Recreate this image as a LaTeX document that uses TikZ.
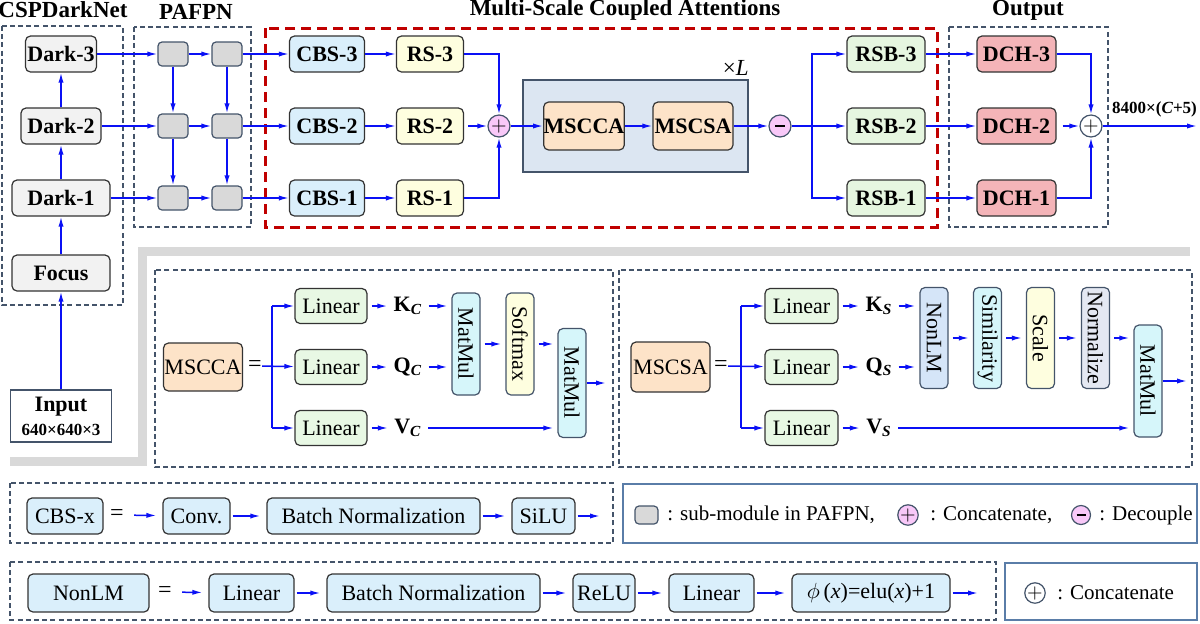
\documentclass[tikz,border=0pt]{standalone}
\usepackage{fontspec}
\setmainfont{Liberation Serif}
\usetikzlibrary{arrows.meta}

\definecolor{slate}{HTML}{44546A}
\definecolor{flow}{HTML}{0A10F5}
\definecolor{darkred}{HTML}{C00000}
\definecolor{legblue}{HTML}{5A7DA8}
\definecolor{lgray}{HTML}{F2F2F2}
\definecolor{mgray}{HTML}{D9D9D9}
\definecolor{cbsblue}{HTML}{DAEFFB}
\definecolor{rsyellow}{HTML}{FEFEDF}
\definecolor{attorange}{HTML}{FDE3C8}
\definecolor{rsbgreen}{HTML}{E6F6E0}
\definecolor{dchred}{HTML}{F4B4B8}
\definecolor{catpink}{HTML}{F8C8F8}
\definecolor{loopblue}{HTML}{DCE6F2}
\definecolor{lingreen}{HTML}{E8F8E4}
\definecolor{mulcyan}{HTML}{D6F6FA}
\definecolor{nonlmblue}{HTML}{D5E5F8}
\definecolor{normgray}{HTML}{E4E8F2}

\tikzset{
  arr/.style={draw=flow, line width=0.75pt, -{Latex[length=5pt,width=2.6pt]}},
  parr/.style={arr, shorten <=2pt, shorten >=2pt},
  larr/.style={arr, shorten <=1pt, shorten >=3pt},
  wire/.style={draw=flow, line width=0.75pt},
  grp/.style={draw=slate, line width=0.6pt, dash pattern=on 2.5pt off 1.6pt},
  redgrp/.style={draw=darkred, line width=1.5pt, dash pattern=on 5pt off 3pt},
  leg/.style={draw=legblue, line width=0.6pt},
  sep/.style={draw=black!15, line width=4.5pt},
  title/.style={inner sep=0pt, font=\bfseries\fontsize{11.5}{13}\selectfont},
  blk/.style={rectangle, draw=black!80, line width=0.6pt, rounded corners=2.5pt, inner sep=0pt,
    minimum height=18pt, font=\bfseries\fontsize{11}{13}\selectfont},
  opbox/.style={blk, font=\fontsize{11}{13}\selectfont},
  vbox/.style={rectangle, draw=slate, line width=0.6pt, rounded corners=2.5pt, inner sep=0pt,
    minimum width=14pt, font=\fontsize{11}{13}\selectfont},
  sub/.style={rectangle, draw=slate, line width=0.6pt, rounded corners=2pt, fill=mgray,
    inner sep=0pt, minimum width=15pt, minimum height=12pt},
  ring/.style={circle, draw=slate, line width=0.6pt, inner sep=0pt, minimum size=11pt},
  vec/.style={inner sep=1pt, font=\bfseries\fontsize{11}{13}\selectfont},
  eqs/.style={inner sep=0pt, font=\fontsize{12}{13}\selectfont},
  legtxt/.style={inner sep=0pt, anchor=west, font=\fontsize{10.5}{12}\selectfont},
}

\begin{document}
\begin{tikzpicture}[x=0.5pt, y=-0.5pt]
  \useasboundingbox (0,0) rectangle (1200,623);

  % frames
  \draw[grp] (2,26) rectangle (123,305);
  \draw[grp] (134,27) rectangle (251,227);
  \draw[redgrp] (265,28) rectangle (937,227);
  \draw[grp] (949,27) rectangle (1108,227);
  \draw[sep] (10,461) -- (142,461) -- (142,251) -- (1190,251);
  \draw[grp] (155,270) rectangle (613,467);
  \draw[grp] (619,270) rectangle (1192,467);
  \draw[grp] (10,483) rectangle (613,543);
  \draw[grp] (10,562) rectangle (996,620);
  \draw[leg] (623,484) rectangle (1197,543);
  \draw[leg] (1005,563) rectangle (1197,620);

  \node (tdark) [title] at (63,10) {CSPDarkNet};
  \node (tpan) [title] at (196,12) {PAFPN};
  \node (tmsca) [title] at (625,10) {Multi-Scale Coupled Attentions};
  \node (tout) [title] at (1028,10) {Output};

  % backbone
  \node (dark3) [blk, fill=lgray, minimum width=35.5pt] at (61,54) {Dark-3};
  \node (dark2) [blk, fill=lgray, minimum width=40pt] at (61,126) {Dark-2};
  \node (dark1) [blk, fill=lgray, minimum width=49pt] at (61,198) {Dark-1};
  \node (focus) [blk, fill=lgray, minimum width=49pt] at (61,273) {Focus};
  \node (input) [draw=slate, line width=0.6pt, inner sep=0pt, minimum width=50.5pt,
    minimum height=26pt, align=center, font=\bfseries\fontsize{11}{12}\selectfont]
    at (61,416) {Input\\{\fontsize{8.5}{10}\selectfont 640×640×3}};

  % neck
  \foreach \r/\y in {1/198, 2/126, 3/54} {
    \node (pa\r) [sub] at (173,\y) {};
    \node (pb\r) [sub] at (227,\y) {};
    \node (cbs\r) [blk, fill=cbsblue, minimum width=37.5pt] at (327,\y) {CBS-\r};
    \node (rs\r) [blk, fill=rsyellow, minimum width=33.5pt] at (430,\y) {RS-\r};
    \node (rsb\r) [blk, fill=rsbgreen, minimum width=39pt] at (886,\y) {RSB-\r};
    \node (dch\r) [blk, fill=dchred, minimum width=39.5pt] at (1016.5,\y) {DCH-\r};
  }

  \node (cat) [ring, fill=catpink] at (499,126) {$+$};
  \node (loop) [draw=slate, fill=loopblue, line width=0.6pt, minimum width=112.5pt,
    minimum height=46pt] at (635.5,126) {};
  \node (times) [anchor=east, inner sep=0pt, font=\fontsize{11.5}{13}\selectfont]
    at (749,68) {×\textit{L}};
  \node (mscca) [blk, fill=attorange, minimum width=39pt, minimum height=24pt] at (584,126) {MSCCA};
  \node (mscsa) [blk, fill=attorange, minimum width=40pt, minimum height=24pt] at (693,126) {MSCSA};
  \node (dec) [ring, fill=catpink] at (780,126) {\rule{5pt}{1.2pt}};
  \coordinate (split) at (812,126);
  \node (add) [ring, fill=white] at (1091,126) {$+$};
  \coordinate (result) at (1197,126);

  \draw[arr] (input) -- (focus);
  \draw[arr] (focus) -- (dark1);
  \draw[arr] (dark1) -- (dark2);
  \draw[arr] (dark2) -- (dark3);
  \foreach \r in {1,2,3} {
    \draw[arr] (dark\r) -- (pa\r);
    \draw[arr] (pa\r) -- (pb\r);
    \draw[arr] (pb\r) -- (cbs\r);
    \draw[arr] (cbs\r) -- (rs\r);
    \draw[arr] (rsb\r) -- (dch\r);
  }
  \draw[arr] (pa3) -- (pa2);
  \draw[arr] (pa2) -- (pa1);
  \draw[arr] (pb3) -- (pb2);
  \draw[arr] (pb2) -- (pb1);
  \draw[arr] (rs3) -| (cat);
  \draw[arr, shorten <=2pt] (rs2) -- (cat);
  \draw[arr] (rs1) -| (cat);
  \draw[arr] (cat) -- (mscca);
  \draw[arr] (mscca) -- (mscsa);
  \draw[arr] (mscsa) -- (dec);
  \draw[arr] (dec) -- (rsb2);
  \draw[arr] (split) |- (rsb3);
  \draw[arr] (split) |- (rsb1);
  \draw[arr] (dch3) -| (add);
  \draw[arr, shorten <=3pt] (dch2) -- (add);
  \draw[arr] (dch1) -| (add);
  \draw[arr] (add) -- (result)
    node [pos=0.55, above=4pt, inner sep=0pt, font=\bfseries\fontsize{8.5}{10}\selectfont]
    {8400×(\textit{C}+5)};

  % channel attention
  \node (ccadef) [opbox, fill=attorange, minimum width=39.5pt, minimum height=24pt] at (203,367) {MSCCA};
  \node (eqa) [eqs] at (255,366) {=};
  \coordinate (bra) at (272,367);
  \node (lka) [opbox, fill=lingreen, minimum width=36pt, minimum height=17.5pt] at (331,306) {Linear};
  \node (lqa) [opbox, fill=lingreen, minimum width=36pt, minimum height=17.5pt] at (331,367) {Linear};
  \node (lva) [opbox, fill=lingreen, minimum width=36pt, minimum height=17.5pt] at (331,428) {Linear};
  \node (ka) [vec] at (408,306) {K\textsubscript{\textit{C}}};
  \node (qa) [vec] at (408,367) {Q\textsubscript{\textit{C}}};
  \node (va) [vec] at (408,428) {V\textsubscript{\textit{C}}};
  \node (mma) [vbox, fill=mulcyan, minimum height=51pt] at (466,344) {\rotatebox{-90}{MatMul}};
  \node (sma) [vbox, fill=rsyellow, minimum height=51pt] at (520,344) {\rotatebox{-90}{Softmax}};
  \node (mmb) [vbox, fill=mulcyan, minimum height=54.5pt] at (572,383) {\rotatebox{-90}{MatMul}};
  \coordinate (outa) at (606,383);

  \draw[arr] (eqa) -- (lqa);
  \draw[wire] (bra |- lka) -- (bra |- lva);
  \draw[arr] (bra |- lka) -- (lka);
  \draw[arr] (bra |- lva) -- (lva);
  \foreach \v in {k,q,v} {
    \draw[parr] (l\v a) -- (\v a);
  }
  \draw[parr] (ka) -- (ka -| mma.west);
  \draw[parr] (qa) -- (qa -| mma.west);
  \draw[parr] (mma) -- (sma);
  \draw[parr] (sma.east) -- (sma.east -| mmb.west);
  \draw[parr] (va) -- (va -| mmb.west);
  \draw[arr] (mmb) -- (outa);

  % spatial attention
  \node (csadef) [opbox, fill=attorange, minimum width=39.5pt, minimum height=25pt] at (670.5,367) {MSCSA};
  \node (eqb) [eqs] at (721,366) {=};
  \coordinate (brs) at (741,367);
  \node (lks) [opbox, fill=lingreen, minimum width=36.5pt, minimum height=17.5pt] at (801.5,306) {Linear};
  \node (lqs) [opbox, fill=lingreen, minimum width=36.5pt, minimum height=17.5pt] at (801.5,367) {Linear};
  \node (lvs) [opbox, fill=lingreen, minimum width=36.5pt, minimum height=17.5pt] at (801.5,428) {Linear};
  \node (ks) [vec] at (879,306) {K\textsubscript{\textit{S}}};
  \node (qs) [vec] at (879,367) {Q\textsubscript{\textit{S}}};
  \node (vs) [vec] at (879,428) {V\textsubscript{\textit{S}}};
  \node (nlm) [vbox, fill=nonlmblue, minimum height=50.5pt] at (934,338) {\rotatebox{-90}{NonLM}};
  \node (sim) [vbox, fill=mulcyan, minimum height=50.5pt] at (987.5,338) {\rotatebox{-90}{Similarity}};
  \node (scl) [vbox, fill=rsyellow, minimum height=50.5pt] at (1040.5,338) {\rotatebox{-90}{Scale}};
  \node (nrm) [vbox, fill=normgray, minimum height=50.5pt] at (1095.5,338) {\rotatebox{-90}{Normalize}};
  \node (mms) [vbox, fill=mulcyan, minimum height=56pt] at (1148,381) {\rotatebox{-90}{MatMul}};
  \coordinate (outs) at (1187,381);

  \draw[arr] (eqb) -- (lqs);
  \draw[wire] (brs |- lks) -- (brs |- lvs);
  \draw[arr] (brs |- lks) -- (lks);
  \draw[arr] (brs |- lvs) -- (lvs);
  \foreach \v in {k,q,v} {
    \draw[parr] (l\v s) -- (\v s);
  }
  \draw[parr] (ks) -- (ks -| nlm.west);
  \draw[parr] (qs) -- (qs -| nlm.west);
  \draw[parr] (nlm) -- (sim);
  \draw[parr] (sim) -- (scl);
  \draw[parr] (scl) -- (nrm);
  \draw[parr] (nrm.east) -- (nrm.east -| mms.west);
  \draw[parr] (vs) -- (vs -| mms.west);
  \draw[arr] (mms) -- (outs);

  % CBS and NonLM definitions
  \node (cbsx) [opbox, fill=cbsblue, minimum width=38pt] at (65,516) {CBS-x};
  \node (eqc) [eqs] at (117,515) {=};
  \node (conv) [opbox, fill=cbsblue, minimum width=33.5pt] at (196.5,516) {Conv.};
  \node (bna) [opbox, fill=cbsblue, minimum width=106.5pt] at (373.5,516) {Batch Normalization};
  \node (silu) [opbox, fill=cbsblue, minimum width=31.5pt] at (543.5,516) {SiLU};
  \coordinate (outc) at (606,516);
  \draw[larr, shorten <=5pt] (eqc) -- (conv);
  \draw[larr] (conv) -- (bna);
  \draw[larr] (bna) -- (silu);
  \draw[larr] (silu) -- (outc);

  \node (nlmx) [opbox, fill=cbsblue, minimum width=60.5pt, minimum height=19pt] at (88.5,593) {NonLM};
  \node (eqn) [eqs] at (165,592) {=};
  \node (lina) [opbox, fill=cbsblue, minimum width=42.5pt, minimum height=19pt] at (251.5,593) {Linear};
  \node (bnb) [opbox, fill=cbsblue, minimum width=106.5pt, minimum height=19pt] at (433.5,593) {Batch Normalization};
  \node (relu) [opbox, fill=cbsblue, minimum width=31pt, minimum height=19pt] at (604,593) {ReLU};
  \node (linb) [opbox, fill=cbsblue, minimum width=42.5pt, minimum height=19pt] at (711.5,593) {Linear};
  \node (phi) [opbox, fill=cbsblue, minimum width=79pt, minimum height=19pt] at (871,593)
    {$\phi$\,(\textit{x})=elu(\textit{x})+1};
  \coordinate (outn) at (984,593);
  \draw[larr, shorten <=5pt] (eqn) -- (lina);
  \draw[larr] (lina) -- (bnb);
  \draw[larr] (bnb) -- (relu);
  \draw[larr] (relu) -- (linb);
  \draw[larr] (linb) -- (phi);
  \draw[larr] (phi) -- (outn);

  % legend
  \node (lsub) [sub, minimum width=11.5pt, minimum height=9pt] at (646.5,515) {};
  \node (tsub) [legtxt] at (667,515) {: sub-module in PAFPN,};
  \node (lcat) [ring, fill=catpink, minimum size=9.5pt] at (908,515) {$+$};
  \node (tcat) [legtxt] at (930,515) {: Concatenate,};
  \node (ldec) [ring, fill=catpink, minimum size=9.5pt] at (1081,515) {\rule{4.5pt}{1.1pt}};
  \node (tdec) [legtxt] at (1099,515) {: Decouple};
  \node (ladd) [ring, fill=white, minimum size=9.5pt] at (1035,593) {$+$};
  \node (tadd) [legtxt] at (1057,593) {: Concatenate};
\end{tikzpicture}
\end{document}
